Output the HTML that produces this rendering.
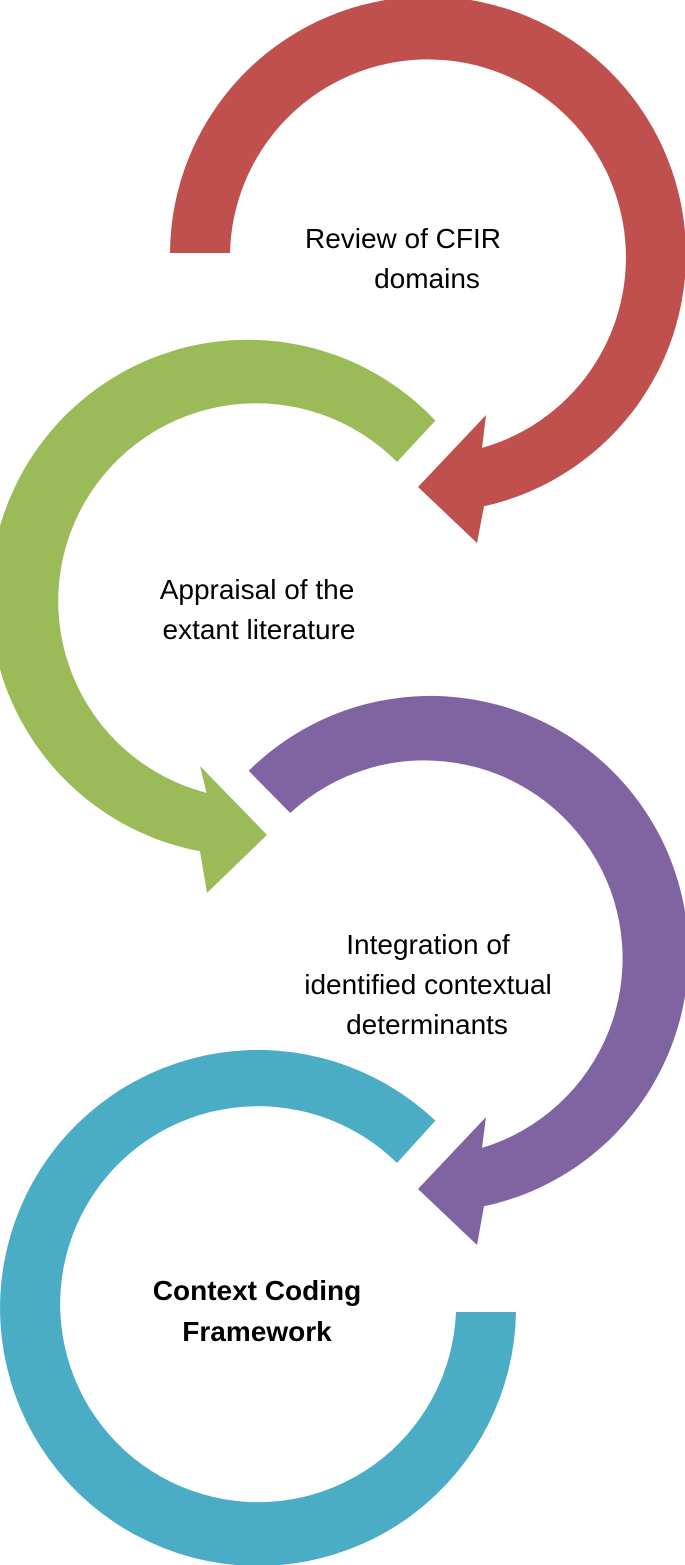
<!DOCTYPE html>
<html><head><meta charset="utf-8"><style>
html,body{margin:0;padding:0;background:#fff;}
svg{display:block;}
text{font-family:"Liberation Sans","DejaVu Sans",sans-serif;font-size:28px;fill:#000;}
</style></head><body>
<svg width="685" height="1565" viewBox="0 0 685 1565" xmlns="http://www.w3.org/2000/svg">
<path fill="#C0504D" d="M170,253 A258,258 0 1 1 484.0,506.3 L477,543 L418,487 L486,415 L482,447.9 A198,198 0 1 0 230,253 Z"/>
<path fill="#9BBB59" d="M435.4,420.6 A258,258 0 1 0 200.0,851.3 L207,893 L267,834.9 L200,766 L206.5,792.9 A198,198 0 1 1 397.0,462.0 Z"/>
<path fill="#8064A2" d="M248.7,770.8 A258,258 0 1 1 484.0,1206.3 L477,1245 L418,1189 L486,1117 L482,1147.9 A198,198 0 1 0 290.2,813.0 Z"/>
<path fill="#4BACC6" d="M435.4,1120.6 A258,258 0 1 0 516,1312 L456,1312 A198,198 0 1 1 397.0,1163.0 Z"/>
<text x="403" y="248" text-anchor="middle">Review of CFIR</text>
<text x="427" y="288" text-anchor="middle">domains</text>
<text x="257" y="599" text-anchor="middle">Appraisal of the</text>
<text x="259" y="639" text-anchor="middle">extant literature</text>
<text x="428" y="954" text-anchor="middle">Integration of</text>
<text x="428" y="994" text-anchor="middle">identified contextual</text>
<text x="427" y="1034" text-anchor="middle">determinants</text>
<text x="257" y="1300" text-anchor="middle" font-weight="bold">Context Coding</text>
<text x="257" y="1341" text-anchor="middle" font-weight="bold">Framework</text>
</svg>
</body></html>
